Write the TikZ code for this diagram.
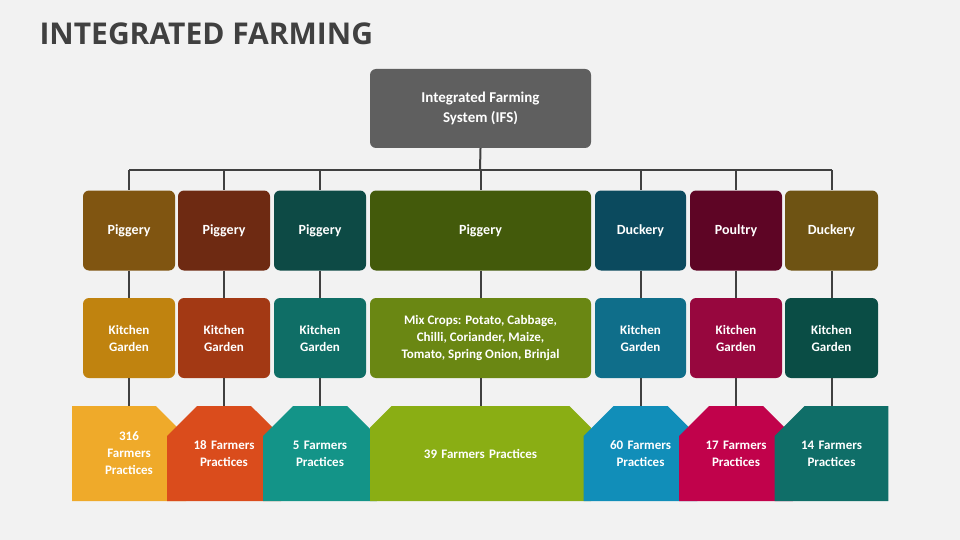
\documentclass[tikz,border=0pt]{standalone}
\usepackage{fontspec}
\setmainfont{Carlito}
\newfontfamily\titlefont{Open Sans}
\usetikzlibrary{shapes.misc}
\definecolor{bg}{HTML}{F2F2F2}
\definecolor{ln}{HTML}{404040}
\definecolor{rootc}{HTML}{5F5F5F}
\definecolor{ta}{HTML}{805511}\definecolor{tb}{HTML}{6E2A12}\definecolor{tc}{HTML}{0D4A45}\definecolor{td}{HTML}{435A0B}\definecolor{te}{HTML}{0B4A5E}\definecolor{tf}{HTML}{5E0525}\definecolor{tg}{HTML}{6E5313}
\definecolor{ma}{HTML}{C0830F}\definecolor{mb}{HTML}{A33914}\definecolor{mc}{HTML}{0F6E66}\definecolor{md}{HTML}{6A8713}\definecolor{me}{HTML}{0F6E8A}\definecolor{mf}{HTML}{97073E}\definecolor{mg}{HTML}{0A4D45}
\definecolor{ba}{HTML}{EFAA2A}\definecolor{bb}{HTML}{DA4C1C}\definecolor{bc}{HTML}{139488}\definecolor{bd}{HTML}{8AAE14}\definecolor{be}{HTML}{118EB9}\definecolor{bf}{HTML}{C1024B}\definecolor{bg2}{HTML}{0F6E68}
\tikzset{
 box/.style={rounded corners=6pt, text=white, font=\bfseries\fontsize{14}{17}\selectfont, align=center, minimum height=80pt, inner sep=2pt},
 mbox/.style={box, font=\bfseries\fontsize{13}{17}\selectfont},
 bbox/.style={chamfered rectangle, chamfered rectangle xsep=15pt, chamfered rectangle ysep=15pt, text=white, font=\bfseries\fontsize{13}{17}\selectfont, align=center, minimum height=95pt, inner sep=2pt},
 conn/.style={draw=ln, line width=2pt}
}
\begin{document}
\begin{tikzpicture}[x=1pt,y=-1pt]
\fill[bg] (0,0) rectangle (960,540);
\useasboundingbox (0,0) rectangle (960,540);
\node[anchor=west, font=\titlefont\bfseries\fontsize{30}{34}\selectfont, text=ln] (title) at (36,34) {INTEGRATED FARMING};
\node[box, fill=rootc, minimum width=221pt, minimum height=79pt, font=\bfseries\fontsize{15}{20}\selectfont] (root) at (480.5,108.5) {Integrated Farming\\System (IFS)};
\coordinate (bus) at (480,170);
\foreach \n/\x/\w/\c/\t in {1/129/92/ta/Piggery,2/224/92/tb/Piggery,3/320/92/tc/Piggery,4/480.5/221/td/Piggery,5/640.5/91/te/Duckery,6/736/92/tf/Poultry,7/831.5/93/tg/Duckery}
  \node[box, fill=\c, minimum width=\w pt] (t\n) at (\x,230.5) {\t};
\foreach \n/\x/\w/\c in {1/129/92/ma,2/224/92/mb,3/320/92/mc,5/640.5/91/me,6/736/92/mf,7/831.5/93/mg}
  \node[mbox, fill=\c, minimum width=\w pt] (m\n) at (\x,338) {Kitchen\\Garden};
\node[mbox, fill=md, minimum width=221pt] (m4) at (480.5,338) {Mix Crops: Potato, Cabbage,\\Chilli, Coriander, Maize,\\Tomato, Spring Onion, Brinjal};
\node[bbox, fill=ba, minimum width=92pt, text width=80pt, chamfered rectangle corners=north east] (b1) at (129,453.5) {316\\Farmers\\Practices};
\node[bbox, fill=bb, minimum width=92pt, text width=80pt, chamfered rectangle corners={north east,north west}] (b2) at (224,453.5) {18 Farmers\\Practices};
\node[bbox, fill=bc, minimum width=92pt, text width=80pt, chamfered rectangle corners={north east,north west}] (b3) at (320,453.5) {5 Farmers\\Practices};
\node[bbox, fill=bd, minimum width=221pt, text width=200pt, chamfered rectangle corners={north east,north west}] (b4) at (480.5,453.5) {39 Farmers Practices};
\node[bbox, fill=be, minimum width=91pt, text width=80pt, chamfered rectangle corners={north east,north west}] (b5) at (640.5,453.5) {60 Farmers\\Practices};
\node[bbox, fill=bf, minimum width=92pt, text width=80pt, chamfered rectangle corners={north east,north west}] (b6) at (736,453.5) {17 Farmers\\Practices};
\node[bbox, fill=bg2, minimum width=93pt, text width=80pt, chamfered rectangle corners=north west] (b7) at (831.5,453.5) {14 Farmers\\Practices};
\draw[conn] (root.south) -- (bus);
\draw[conn] (t1.north|-bus) -- (t7.north|-bus);
\foreach \n in {1,...,7} {
  \draw[conn] (t\n.north|-bus) -- (t\n.north);
  \draw[conn] (t\n.south) -- (m\n.north);
  \draw[conn] (m\n.south) -- (b\n.north);
}
\end{tikzpicture}
\end{document}
